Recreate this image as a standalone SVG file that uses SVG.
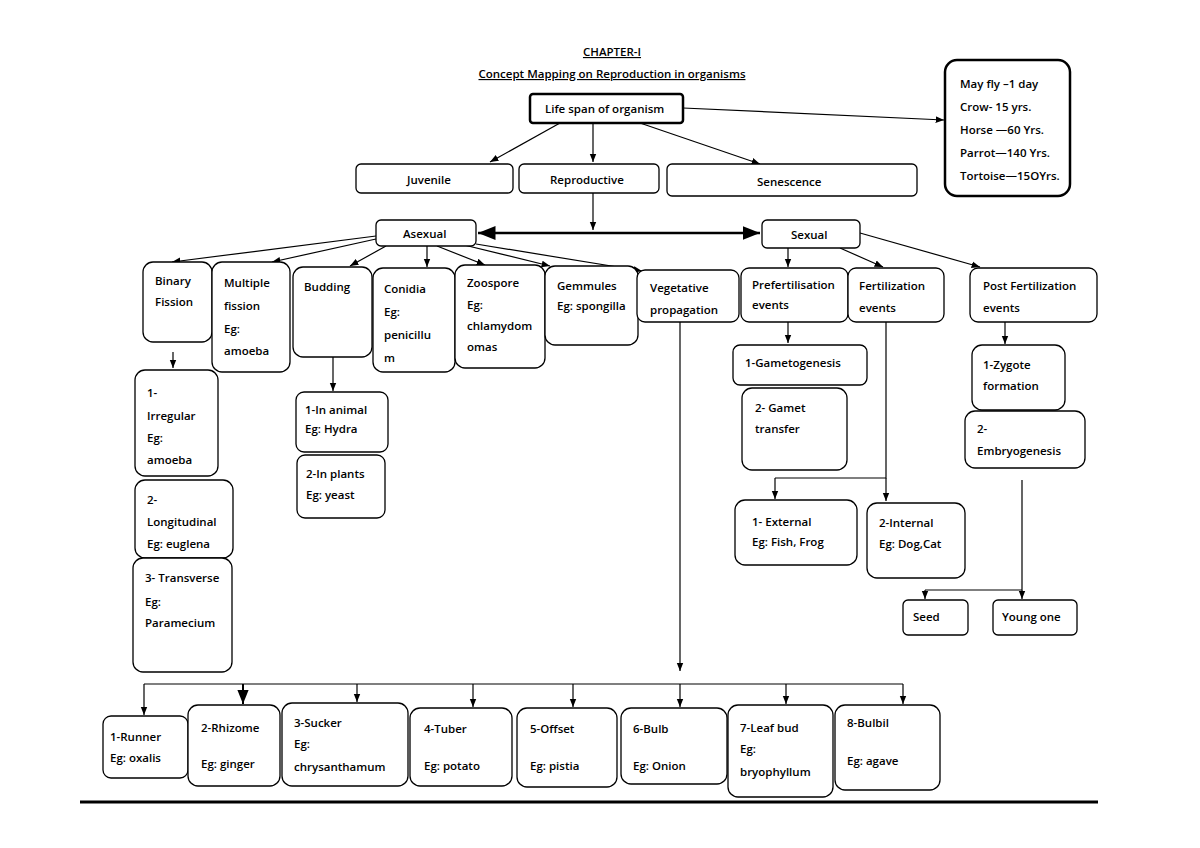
<svg xmlns="http://www.w3.org/2000/svg" width="1200" height="848" viewBox="0 0 1200 848">
<defs>
<marker id="a" viewBox="0 0 10 10" refX="10" refY="5" markerWidth="7" markerHeight="7" orient="auto-start-reverse"><path d="M0,1 L10,5 L0,9 z" fill="#000"/></marker>
<style>
rect{fill:#fff;stroke:#000;stroke-width:1.3}
.t{stroke-width:2.5}
text{font-family:"Open Sans","Liberation Sans",sans-serif;font-size:11.5px;font-weight:600;fill:#000}
.c line,.c path{stroke:#000;stroke-width:1.2;fill:none}
.c .m{marker-end:url(#a)}
</style>
</defs>
<rect width="1200" height="848" style="stroke:none"/>
<text x="612" y="56" text-anchor="middle" text-decoration="underline">CHAPTER-I</text>
<text x="612" y="78" text-anchor="middle" text-decoration="underline">Concept Mapping on Reproduction in organisms</text>
<g class="c">
<line class="m" x1="683" y1="108" x2="944" y2="120"/>
<line class="m" x1="560" y1="123" x2="490" y2="162"/>
<line class="m" x1="593" y1="123" x2="593" y2="162"/>
<line class="m" x1="640" y1="123" x2="760" y2="164"/>
<line class="m" x1="593" y1="193" x2="593" y2="230"/>
<line x1="478" y1="233" x2="760" y2="233" style="stroke-width:2.5;marker-end:url(#a);marker-start:url(#a)"/>
<line class="m" x1="376" y1="236" x2="172" y2="262"/>
<line class="m" x1="376" y1="239" x2="272" y2="262"/>
<line class="m" x1="386" y1="246" x2="350" y2="266"/>
<line class="m" x1="427" y1="246" x2="427" y2="267"/>
<line class="m" x1="437" y1="246" x2="485" y2="265"/>
<line class="m" x1="460" y1="244" x2="550" y2="266"/>
<line class="m" x1="476" y1="244" x2="642" y2="271"/>
<line class="m" x1="788" y1="248" x2="788" y2="267"/>
<line class="m" x1="840" y1="248" x2="883" y2="267"/>
<line class="m" x1="860" y1="233" x2="980" y2="267"/>
<line class="m" x1="173" y1="352" x2="173" y2="368"/>
<line class="m" x1="333" y1="357" x2="333" y2="391"/>
<line class="m" x1="788" y1="322" x2="788" y2="343"/>
<path d="M886,322 V478 H775"/>
<line class="m" x1="775" y1="478" x2="775" y2="499"/>
<line class="m" x1="886" y1="478" x2="886" y2="501"/>
<line class="m" x1="1005" y1="322" x2="1005" y2="344"/>
<path d="M1022,480 V590 H925"/>
<line class="m" x1="925" y1="590" x2="925" y2="599"/>
<line class="m" x1="1022" y1="590" x2="1022" y2="599"/>
<line class="m" x1="680" y1="322" x2="680" y2="671"/>
<line x1="144" y1="684" x2="903" y2="684"/>
<line class="m" x1="144" y1="684" x2="144" y2="715"/>
<line class="m" x1="243" y1="684" x2="243" y2="704" style="stroke-width:2"/>
<line class="m" x1="357" y1="684" x2="357" y2="702"/>
<line class="m" x1="473" y1="684" x2="473" y2="707"/>
<line class="m" x1="573" y1="684" x2="573" y2="707"/>
<line class="m" x1="680" y1="684" x2="680" y2="707"/>
<line class="m" x1="786" y1="684" x2="786" y2="704"/>
<line class="m" x1="903" y1="684" x2="903" y2="704"/>
<line x1="80" y1="802" x2="1098" y2="802" style="stroke-width:3"/>
</g>
<g id="lifespan"><rect class="t" x="530" y="94" width="153" height="29" rx="3"/><text x="545" y="113">Life span of organism</text></g>
<g id="examples"><rect class="t" x="945" y="60" width="125" height="136" rx="12"/><text x="960" y="88">May fly –1 day</text><text x="960" y="111">Crow- 15 yrs.</text><text x="960" y="134">Horse —60 Yrs.</text><text x="960" y="157">Parrot—140 Yrs.</text><text x="960" y="180">Tortoise—15OYrs.</text></g>
<g id="juvenile"><rect x="356" y="164" width="157" height="29" rx="5"/><text x="407" y="184">Juvenile</text></g>
<g id="reproductive"><rect x="519" y="164" width="140" height="29" rx="5"/><text x="550" y="184">Reproductive</text></g>
<g id="senescence"><rect x="667" y="164" width="250" height="32" rx="5"/><text x="757" y="186">Senescence</text></g>
<g id="asexual"><rect x="376" y="220" width="100" height="26" rx="5"/><text x="403" y="238">Asexual</text></g>
<g id="sexual"><rect x="762" y="220" width="98" height="28" rx="5"/><text x="791" y="239">Sexual</text></g>
<g id="binary"><rect x="143" y="262" width="69" height="80" rx="10"/><text x="155" y="285">Binary</text><text x="155" y="306">Fission</text></g>
<g id="multiple"><rect x="212" y="262" width="78" height="110" rx="10"/><text x="224" y="287">Multiple</text><text x="224" y="310">fission</text><text x="224" y="333">Eg:</text><text x="224" y="355">amoeba</text></g>
<g id="budding"><rect x="293" y="267" width="79" height="90" rx="10"/><text x="304" y="291">Budding</text></g>
<g id="conidia"><rect x="373" y="268" width="82" height="104" rx="10"/><text x="384" y="293">Conidia</text><text x="384" y="316">Eg:</text><text x="384" y="339">penicillu</text><text x="384" y="362">m</text></g>
<g id="zoospore"><rect x="455" y="265" width="90" height="103" rx="10"/><text x="467" y="287">Zoospore</text><text x="467" y="309">Eg:</text><text x="467" y="330">chlamydom</text><text x="467" y="351">omas</text></g>
<g id="gemmules"><rect x="545" y="266" width="93" height="79" rx="10"/><text x="557" y="290">Gemmules</text><text x="557" y="310">Eg: spongilla</text></g>
<g id="vegetative"><rect x="637" y="270" width="102" height="52" rx="8"/><text x="650" y="292">Vegetative</text><text x="650" y="314">propagation</text></g>
<g id="prefert"><rect x="741" y="268" width="107" height="54" rx="8"/><text x="752" y="289">Prefertilisation</text><text x="752" y="309">events</text></g>
<g id="fert"><rect x="848" y="268" width="96" height="54" rx="8"/><text x="859" y="290">Fertilization</text><text x="859" y="312">events</text></g>
<g id="postfert"><rect x="970" y="268" width="127" height="54" rx="8"/><text x="983" y="290">Post Fertilization</text><text x="983" y="312">events</text></g>
<g id="irregular"><rect x="135" y="370" width="83" height="106" rx="10"/><text x="147" y="397">1-</text><text x="147" y="420">Irregular</text><text x="147" y="442">Eg:</text><text x="147" y="464">amoeba</text></g>
<g id="longitudinal"><rect x="135" y="480" width="98" height="78" rx="10"/><text x="147" y="504">2-</text><text x="147" y="526">Longitudinal</text><text x="147" y="548">Eg: euglena</text></g>
<g id="transverse"><rect x="133" y="558" width="99" height="114" rx="10"/><text x="145" y="582">3- Transverse</text><text x="145" y="606">Eg:</text><text x="145" y="627">Paramecium</text></g>
<g id="animal"><rect x="296" y="392" width="92" height="60" rx="8"/><text x="305" y="414">1-In animal</text><text x="305" y="433">Eg: Hydra</text></g>
<g id="plants"><rect x="297" y="455" width="88" height="63" rx="8"/><text x="306" y="478">2-In plants</text><text x="306" y="499">Eg: yeast</text></g>
<g id="gametogenesis"><rect x="733" y="345" width="134" height="40" rx="7"/><text x="745" y="367">1-Gametogenesis</text></g>
<g id="transfer"><rect x="742" y="388" width="105" height="82" rx="10"/><text x="755" y="412">2- Gamet</text><text x="755" y="433">transfer</text></g>
<g id="external"><rect x="735" y="500" width="122" height="65" rx="10"/><text x="752" y="526">1- External</text><text x="752" y="546">Eg: Fish, Frog</text></g>
<g id="internal"><rect x="867" y="503" width="98" height="75" rx="10"/><text x="879" y="527">2-Internal</text><text x="879" y="548">Eg: Dog,Cat</text></g>
<g id="zygote"><rect x="972" y="345" width="93" height="65" rx="10"/><text x="983" y="369">1-Zygote</text><text x="983" y="390">formation</text></g>
<g id="embryo"><rect x="965" y="411" width="120" height="57" rx="10"/><text x="977" y="433">2-</text><text x="977" y="455">Embryogenesis</text></g>
<g id="seed"><rect x="903" y="600" width="65" height="35" rx="5"/><text x="913" y="621">Seed</text></g>
<g id="young"><rect x="993" y="600" width="84" height="35" rx="5"/><text x="1002" y="621">Young one</text></g>
<g id="runner"><rect x="103" y="716" width="85" height="62" rx="8"/><text x="110" y="741">1-Runner</text><text x="110" y="762">Eg: oxalis</text></g>
<g id="rhizome"><rect x="188" y="705" width="92" height="81" rx="10"/><text x="201" y="732">2-Rhizome</text><text x="201" y="768">Eg: ginger</text></g>
<g id="sucker"><rect x="282" y="703" width="126" height="83" rx="10"/><text x="294" y="727">3-Sucker</text><text x="294" y="748">Eg:</text><text x="294" y="771">chrysanthamum</text></g>
<g id="tuber"><rect x="410" y="708" width="102" height="78" rx="10"/><text x="424" y="733">4-Tuber</text><text x="424" y="770">Eg: potato</text></g>
<g id="offset"><rect x="517" y="708" width="100" height="79" rx="10"/><text x="530" y="733">5-Offset</text><text x="530" y="770">Eg: pistia</text></g>
<g id="bulb"><rect x="621" y="708" width="106" height="76" rx="10"/><text x="633" y="733">6-Bulb</text><text x="633" y="770">Eg: Onion</text></g>
<g id="leafbud"><rect x="728" y="705" width="105" height="92" rx="10"/><text x="740" y="732">7-Leaf bud</text><text x="740" y="753">Eg:</text><text x="740" y="776">bryophyllum</text></g>
<g id="bulbil"><rect x="835" y="705" width="105" height="85" rx="10"/><text x="847" y="727">8-Bulbil</text><text x="847" y="765">Eg: agave</text></g>
</svg>
